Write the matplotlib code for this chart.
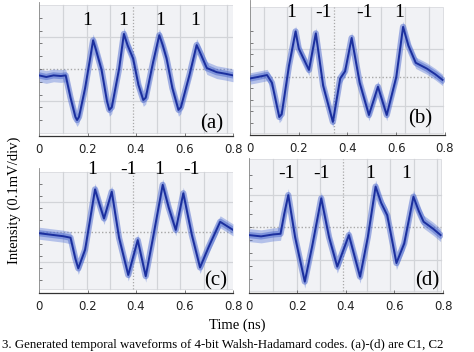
import matplotlib
matplotlib.use("Agg")
import matplotlib.pyplot as plt
import numpy as np

# time (ns) and intensity (div) keypoints
t_a = [0.0, 0.03, 0.06, 0.09, 0.11, 0.13, 0.15, 0.157, 0.165, 0.19, 0.21, 0.223, 0.235, 0.258, 0.28, 0.29, 0.30,
       0.33, 0.35, 0.365, 0.388, 0.41, 0.43, 0.44, 0.47, 0.496, 0.51, 0.526, 0.55, 0.575, 0.585, 0.62, 0.65,
       0.665, 0.692, 0.733, 0.77, 0.8]
v_a = [-0.2, -0.25, -0.2, -0.22, -0.2, -0.9, -1.5, -1.6, -1.5, -0.6, 0.3, 0.9, 0.6, -0.03, -1.0, -1.28, -1.2,
       0.0, 1.1, 0.75, 0.33, -0.5, -0.97, -0.9, 0.2, 1.06, 0.75, 0.33, -0.6, -1.28, -1.2, -0.2, 0.75,
       0.5, 0.03, -0.1, -0.15, -0.2]

t_b = [0.0, 0.03, 0.07, 0.09, 0.12, 0.13, 0.16, 0.187, 0.2, 0.242, 0.27, 0.3, 0.34, 0.37, 0.39, 0.417, 0.45,
       0.488, 0.525, 0.561, 0.6, 0.628, 0.65, 0.68, 0.725, 0.76, 0.79]
v_b = [-0.05, 0.0, 0.07, -0.2, -1.4, -1.3, 0.4, 1.6, 1.0, 0.25, 1.53, -0.3, -1.57, -0.05, 0.2, 1.37, -0.2,
       -1.33, -0.34, -1.33, 0.0, 1.76, 1.1, 0.5, 0.3, 0.1, -0.1]

t_c = [0.0, 0.05, 0.1, 0.13, 0.15, 0.162, 0.19, 0.231, 0.25, 0.268, 0.3, 0.33, 0.368, 0.407, 0.44, 0.47,
       0.51, 0.535, 0.564, 0.595, 0.63, 0.664, 0.7, 0.747, 0.8]
v_c = [-0.05, -0.1, -0.15, -0.2, -0.9, -1.22, -0.6, 1.41, 0.9, 0.44, 1.33, -0.2, -1.44, -0.28, -1.48, -0.2,
       1.56, 0.8, 0.06, 1.28, -0.1, -1.19, -0.5, 0.33, 0.06]

t_d = [0.0, 0.05, 0.1, 0.13, 0.145, 0.162, 0.19, 0.23, 0.26, 0.298, 0.33, 0.364, 0.412, 0.458, 0.49, 0.522,
       0.545, 0.57, 0.59, 0.608, 0.64, 0.678, 0.7, 0.72, 0.76, 0.79]
v_d = [-0.24, -0.28, -0.22, -0.2, 0.4, 0.99, -0.3, -1.67, -0.6, 0.89, -0.3, -1.21, -0.24, -1.52, -0.3, 1.25,
       0.75, 0.37, -0.4, -1.1, -0.5, 0.94, 0.5, 0.17, -0.05, -0.24]

codes_a = ["1", "1", "1", "1"]
codes_b = ["1", "-1", "-1", "1"]
codes_c = ["1", "-1", "1", "-1"]
codes_d = ["-1", "-1", "1", "1"]

code_x_a = [0.197, 0.345, 0.5, 0.643]
code_x_b = [0.17, 0.30, 0.47, 0.61]
code_x_c = [0.221, 0.37, 0.495, 0.627]
code_x_d = [0.155, 0.30, 0.50, 0.65]

xticks = [0, 0.2, 0.4, 0.6, 0.8]
xticklabels = ["0", "0.2", "0.4", "0.6", "0.8"]

serif = "Liberation Serif"


def draw_panel(ax, t, v, codes, code_x, code_y, tag, tag_xy, ylim, grid_x0, bg_x, bg_y):
    ax.set_xlim(0, 0.8)
    ax.set_ylim(*ylim)
    ax.add_patch(plt.Rectangle((bg_x[0], bg_y[0]), bg_x[1] - bg_x[0], bg_y[1] - bg_y[0],
                               facecolor="#f1f2f5", edgecolor="#d8dade", lw=0.6, zorder=0))
    gx = [grid_x0 + 0.0965 * k for k in range(9)]
    gx = [g for g in gx if bg_x[0] < g < bg_x[1]]
    for g in gx:
        if abs(g - (grid_x0 + 0.0965 * 3)) < 1e-6:
            ax.plot([g, g], bg_y, color="#a8a8a8", lw=0.9, ls=(0, (1, 1.5)), zorder=1)
        else:
            ax.plot([g, g], bg_y, color="#d2d4d8", lw=0.9, zorder=1)
    for h in [-1, 1]:
        ax.plot(bg_x, [h, h], color="#d2d4d8", lw=0.9, zorder=1)
    ax.plot(bg_x, [0, 0], color="#a8a8a8", lw=1.0, ls=(0, (1, 1.5)), zorder=1)

    tt = np.array(t)
    vv = np.array(v)
    ax.fill_between(tt, vv - 0.2, vv + 0.2, color="#5a78d8", alpha=0.4, lw=0, zorder=2)
    ax.plot(tt, vv, color="#4a66cc", lw=4.5, alpha=0.5, solid_joinstyle="round", zorder=3)
    ax.plot(tt, vv, color="#1b2f9e", lw=1.4, solid_joinstyle="round", zorder=4)

    for c, x in zip(codes, code_x):
        ax.text(x, code_y, c, family=serif, fontsize=14, ha="center", va="center", zorder=5)
    ax.text(tag_xy[0], tag_xy[1], tag, family=serif, fontsize=15, ha="center", va="center", zorder=5)

    ax.set_xticks(xticks)
    ax.set_xticklabels(xticklabels, fontsize=8.5, color="#222222")
    ax.set_yticks(list(np.arange(-1.6, 1.7, 0.4)))
    ax.set_yticklabels([])
    ax.tick_params(axis="both", direction="in", length=2, width=0.6, color="#666666", pad=4)
    ax.tick_params(axis="x", pad=5)
    for s in ["top", "right"]:
        ax.spines[s].set_visible(False)
    ax.spines["left"].set_color("#888888")
    ax.spines["left"].set_linewidth(0.6)
    ax.spines["bottom"].set_color("#333333")
    ax.spines["bottom"].set_linewidth(0.9)
    ax.set_facecolor("white")


fig = plt.figure(figsize=(4.74, 3.52), dpi=100)

ax_a = fig.add_axes([0.0823, 0.6136, 0.4093, 0.3807])
draw_panel(ax_a, t_a, v_a, codes_a, code_x_a, 1.53, "(a)", (0.71, -1.72), (-2.1, 2.1),
           0.10, (0.0, 0.8), (-2.0, 2.0))

ax_b = fig.add_axes([0.5274, 0.6165, 0.4114, 0.3835])
draw_panel(ax_b, t_b, v_b, codes_b, code_x_b, 2.25, "(b)", (0.70, -1.45), (-2.03, 2.7),
           0.057, (0.0, 0.79), (-1.95, 2.45))

ax_c = fig.add_axes([0.0823, 0.1676, 0.4093, 0.3551])
draw_panel(ax_c, t_c, v_c, codes_c, code_x_c, 2.06, "(c)", (0.73, -1.64), (-2.04, 2.12),
           0.10, (0.0, 0.8), (-1.9, 2.0))

ax_d = fig.add_axes([0.5253, 0.1676, 0.4093, 0.3827])
draw_panel(ax_d, t_d, v_d, codes_d, code_x_d, 1.66, "(d)", (0.733, -1.65), (-2.02, 2.12),
           0.10, (0.0, 0.79), (-1.97, 2.1))

fig.text(0.03, 0.43, "Intensity (0.1mV/div)", family=serif, fontsize=10.5, rotation=90,
         ha="center", va="center")
fig.text(0.5, 0.077, "Time (ns)", family=serif, fontsize=10.5, ha="center", va="center")
fig.text(0.004, 0.004, "3. Generated temporal waveforms of 4-bit Walsh-Hadamard codes. (a)-(d) are C1, C2",
         family=serif, fontsize=9.3, ha="left", va="bottom")

fig.savefig("out.png", dpi=100)
